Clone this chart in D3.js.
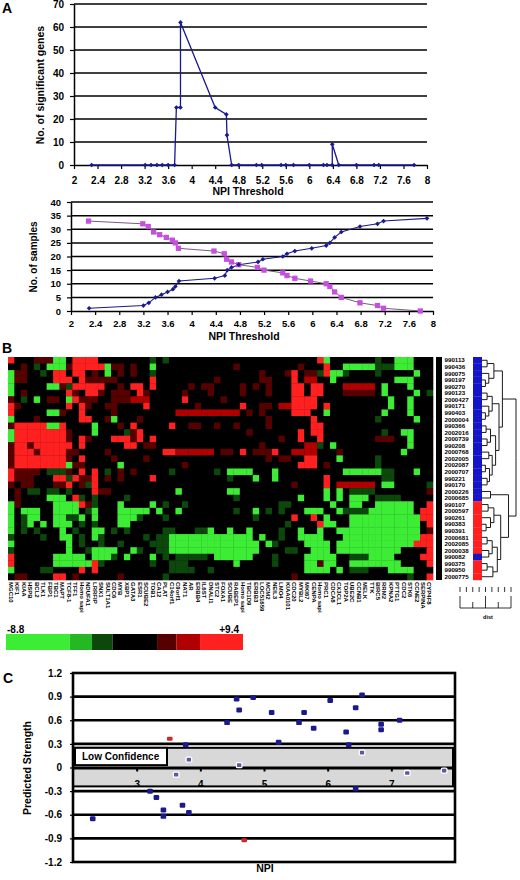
<!DOCTYPE html>
<html>
<head>
<meta charset="utf-8">
<script src="https://cdn.jsdelivr.net/npm/d3@7"></script>
<style>
  body{ margin:0; background:#fff; }
  svg text{ font-family:"Liberation Sans", Arial, sans-serif; font-weight:bold; }
</style>
</head>
<body>
<script>
// ---- panel A (top): significant genes per NPI threshold
var npiTicks = [2, 2.4, 2.8, 3.2, 3.6, 4, 4.4, 4.8, 5.2, 5.6, 6, 6.4, 6.8, 7.2, 7.6, 8];
var geneNpi = [2.30, 3.21, 3.31, 3.41, 3.50, 3.60, 3.71, 3.74, 3.81, 3.81, 4.40, 4.59, 4.60, 4.68, 4.80,
               5.10, 5.19, 5.52, 5.60, 5.73, 6.00, 6.24, 6.30, 6.39, 6.39, 6.50, 6.80, 7.10, 7.18, 7.78];
var geneCount = [0, 0, 0, 0, 0, 0, 0, 25, 25, 62, 25, 22, 13, 0, 0,
                 0, 0, 0, 0, 0, 0, 0, 0, 0, 9, 0, 0, 0, 0, 0];
var geneTicks = [0, 10, 20, 30, 40, 50, 60, 70];

// ---- panel A (bottom): samples above / below threshold
var goodNpi = [2.30, 3.20, 3.29, 3.40, 3.50, 3.60, 3.69, 3.73, 3.79, 4.38, 4.55, 4.59, 4.66, 4.78,
               5.10, 5.18, 5.51, 5.58, 5.71, 5.99, 6.23, 6.29, 6.37, 6.48, 6.79, 7.08, 7.18, 7.90];
var goodCount = [1, 2, 3, 5, 6, 7, 8, 9, 11, 12, 13, 15, 16, 17,
                 18, 19, 20, 21, 22, 23, 24, 25, 27, 29, 31, 32, 33, 34];
var poorNpi = [2.29, 3.19, 3.28, 3.37, 3.47, 3.58, 3.68, 3.73, 3.78, 4.37, 4.54, 4.58, 4.66, 4.78,
               5.09, 5.20, 5.51, 5.58, 5.71, 5.97, 6.23, 6.29, 6.37, 6.48, 6.79, 7.08, 7.18, 7.79];
var poorCount = [33, 32, 31, 29, 28, 27, 26, 25, 23, 22, 21, 19, 18, 17,
                 16, 15, 14, 13, 12, 11, 10, 9, 7, 5, 3, 2, 1, 0];
var sampleTicks = [0, 5, 10, 15, 20, 25, 30, 35, 40];

// ---- panel B: heat map (G bright green, g green, d dark green, . black, m dark red, r red, R bright red)
var samples = ["990113","990436","990075","990197","990270","990123","2000427","990171","990403","2000004",
               "990366","2002016","2000739","990208","2000768","2002005","2002087","2000707","990221","990170",
               "2000226","2000685","990107","2000597","990261","990383","990391","2000681","2002085","2000038",
               "990082","990375","990950","2000775"];
var sampleGroup = ["b","b","b","b","b","b","b","b","b","b","b","b","b","b","b","b","b","b","b","b",
                   "b","b","r","r","r","r","r","r","r","r","b","r","r","r"];
var genes = ["MGC10","KIF1","KIAA","HSPB","BCL2","TLK1","FBP1","TBC1","MAPT","TCF8-1","TFF1","Homo sapi",
             "NDUFA1","LRRFIP","SNX1","SULT1A1","CDC6","MYB","XBP1","GATA3","ESR1","SCUBE2","TOB1","CA12",
             "PLAT","C14orf1","C9orf1","NAT1","AR","ERBB4","IL6ST","DNALI1","STC2","FOXA1","SCUBE","RABEP1",
             "Homo sapi","TBC1D9","ERBB3","LOC51659","MCM2","NEIL3","LMO4","KIAA0101","CDC20","MYBL2","MKI67",
             "CENPA","Homo sapi","PRC1","CDCA8","CX3CL1","TOP2A","UBE2C","CCNB1","MELK","TTK","BIRC5","RRM2",
             "KPNA2","PTTG1","CDC2","STK6","CCNE2","SERPINA","CYP4F8"];
var heatRows = [
  "R...mmmGG. RRRR...... ..d.d..... .......... ........RG .......d.. GGG...",
  "..m.d.GGGm RRRRRGmm.m ..G....... .....m.... .....m...R ..GGGGGddd GGG...",
  "Gmm..d.RR. RR.m.G.m.m ..d....... .........m ...mR.mmdR GGd....d.. ...G..",
  "Gmm....RRR .Rmmmmm... ..R....... ..m......m m...R.rr.. G......... GGG...",
  "G.....GGmd RRRRR..m.R R.R.....m. mm....m.m. m...RR.RR. ..rrrrr.G. ..G...",
  "G.m......R m.RRm.mmm. Rm.....m.. .m....m... m...RR.RR. ..mmmmm.G. ...G.d",
  "m.d.G.mm.G Rmmm..mmmr rr.....R.. ...m...... ....RRRR.. .........G ..G...",
  "Rm.......R .Rm..mm... .R.......m ......R..m m.rrRRRR.R .........G ..G...",
  "R.....GGm. .R....m... ......rrrr rrrrrr.m.m ....RRR..G ........G. ..G...",
  "G...m..... .RR..mG... m......... .......... m......R.. .......d.. ...G..",
  "mRRRRRGGR. ...G...m.R .....R..mm ..m..m.... m......RR. .......... ......",
  "GRRRRRRRRm ...G....dm R......... .......m.. .....R.RR. ........d. .GG...",
  "GRRRRRRRRm .Rm...RRRm R.R....... .......... ..m..R..R. .......mmm ..G...",
  "mRRmRRRRRR .R......RR .mm....... .........m ......rrd. G......... ..G...",
  "mRRRmRRRRm m....m.... ....RRrrrr rr.mm.R.mm mR..rrrr.. .m........ .G....",
  "mRRRRRRRRm .R....m... .m........ .......... m.mm..RR.. .G.....d.. ......",
  "mRRRRRRRRG mm.....G.. .......m.. .......... .....RRR.m .......d.. ......",
  "Rmmmm.dddm .R.R.d.m.m .....d.... ..d.GGGG.. .G........ ..GGGGGGdd ...G..",
  "Rmmm...RRd RmmR.m.m.. ..R....... ....d...G. .G.......R ........dd ......",
  "m.mm...mmR .mdR...... .......... .......... ....m....R .rrrrrr.GG .....d",
  ".m.dd.dd.d ...Rmm.... ......G... ....GG.... .........G .G.dddd... .....m",
  ".m....GGG. Rd.d....d. .......... .....d.... .....G...G .G.GGG.ddd d.....",
  "Gm.....GGG GRmd...G.. ..G.d..d.. .......... ..dd...... G..GG..GGG GGG..R",
  "G.GGG..GGG G.dG...GGG GG.G..G... .....d..G. d.d...GGG. .GddddGGGG GGG.RR",
  "G.dGG..GGd dG.G...GGG d...d..... ........d. ....R..R.G ...GGGGGGG GGGGRR",
  "G.dG.G.GGG .d.d...GG. .......... .......... ...d....RG G..GGGGGGG GGGG.R",
  "G.d.d...G. d..GG.d.d. ....dd...d dG..G..G.. ..d..G..G. .GGGGGGGGG GGGG.m",
  "d....d..GG .d.Gd..... .d.ddGGGGG GGGGGGGG.G ..d..GGGG. ..GGGGGGGG GGGGRR",
  "G........G .d..d..d.. ..dddGGGGG GGGGGGGGG. Gd....GGGG .GGGGGGGGG GGGRRR",
  "d........G ..dGGGG..G d..ddGGGGG GGGGGGGGG. ...dd..GGG .GGGGGGGGG G....R",
  "R......GGG GG.GGGd.G. ..G.d.dddd d.GGGGGG.. .d....GGGG G..dddGGGG ....RR",
  "R......GGG GGGRd..... ..d..ddd.. .....G.... .d....GGmG G..GGGGGGG G....R",
  "G....dd... .R.R...... .....dddd. .d........ ......GGGG .G.ddd...G GGG...",
  ".mm....RR. m......m.. ....d..... .......... ....m..... .......... ..d..R"
];
var codeValue = { "G": -6, "g": -3, "d": -1.5, ".": 0, "m": 3.5, "r": 5, "R": 8 };
var legendBreaks = [-8.8, -3.9, -2.2, -0.6, 2.8, 4.3, 6.1, 9.4];
var legendColors = ["#3ded35", "#25b825", "#0c470c", "#000000", "#560000", "#b00000", "#ff2020"];
// dendrogram: [height, left, right], leaves are row numbers
var tree = [1.0,
  [0.6,
    [0.35, [0.15, 0, 1], [0.2, 2, [0.1, 3, 4]]],
    [0.5, [0.3, [0.15, 5, 6], [0.2, 7, [0.1, 8, 9]]],
          [0.4, [0.25, [0.12, 10, 11], [0.15, 12, 13]],
                [0.3, [0.2, 14, 15], [0.22, [0.1, 16, 17], [0.15, 18, 19]]]]]],
  [0.78,
    [0.25, 20, 21],
    [0.55, [0.35, [0.18, 22, 23], [0.25, 24, [0.12, 25, 26]]],
           [0.45, [0.3, [0.15, 27, 28], [0.2, 29, 30]], [0.32, [0.15, 31, 32], 33]]]]
];
var distTicks = [0, 0.25, 0.5, 0.75, 1];

// ---- panel C: predicted strength vs NPI
var predNpi = [2.31, 3.21, 3.31, 3.42, 3.42, 3.62, 3.72, 3.77, 3.82, 3.82, 4.42, 4.57, 4.61, 4.61, 4.83, 5.12,
               5.23, 5.55, 5.63, 5.78, 6.04, 6.29, 6.33, 6.44, 6.44, 6.54, 6.54, 6.84, 6.84, 7.13, 7.25, 7.83,
               3.52, 4.69];
var predStrength = [-0.65, -0.30, -0.38, -0.54, -0.62, -0.09, -0.48, 0.29, 0.10, -0.57, 0.57, 0.87, 0.73, 0.03, 0.89, 0.70,
                    0.32, 0.57, 0.70, 0.50, 0.85, 0.45, 0.29, 0.76, -0.27, 0.19, 0.92, 0.55, 0.48, 0.60, -0.07, -0.04,
                    0.36, -0.93];
var predClass = ["b","b","b","b","b","b","b","b","b","b","b","b","b","b","b","b",
                 "b","b","b","b","b","b","b","b","b","b","b","b","b","b","b","b",
                 "r","r"];
var strengthTicks = [-1.2, -0.9, -0.6, -0.3, 0, 0.3, 0.6, 0.9, 1.2];
var npiC = [3, 4, 5, 6, 7];
var lowConf = [-0.24, 0.25];

var width = 520, height = 880;
var navy = "#1a1a8e";

var svg = d3.select("body").append("svg")
  .attr("width", width)
  .attr("height", height);

function label(t, x, y, size) {
  return svg.append("text").attr("x", x).attr("y", y).attr("font-size", size).text(t);
}
function fmt(d) { return String(+d.toFixed(1)); }
function styleAxis(g, size) {
  g.attr("font-size", size);
  g.select(".domain").attr("stroke-width", 1.5);
  g.selectAll(".tick line").attr("stroke-width", 1.2);
}

// ================= A top =================
label("A", 2, 13, 14);
var xA = d3.scaleLinear().domain([2, 8]).range([74, 427]);
var yA = d3.scaleLinear().domain([0, 70]).range([165, 4]);

svg.append("g").selectAll("line")
  .data(geneTicks.slice(1))
  .enter().append("line")
    .attr("x1", xA(2)).attr("x2", xA(8))
    .attr("y1", d => yA(d)).attr("y2", d => yA(d))
    .attr("stroke", "#000").attr("stroke-width", 1.6);

var axA = svg.append("g").attr("transform", "translate(0," + yA(0) + ")")
  .call(d3.axisBottom(xA).tickValues(npiTicks).tickFormat(fmt).tickSize(4).tickSizeOuter(0).tickPadding(8));
styleAxis(axA, 10);
var ayA = svg.append("g").attr("transform", "translate(" + xA(2) + ",0)")
  .call(d3.axisLeft(yA).tickValues(geneTicks).tickSize(4).tickSizeOuter(0).tickPadding(6));
styleAxis(ayA, 10);

var geneLine = d3.line().x(d => xA(d[0])).y(d => yA(d[1]));
var genePts = geneNpi.map((v, i) => [v, geneCount[i]]);
svg.append("path").attr("d", geneLine(genePts))
  .attr("fill", "none").attr("stroke", navy).attr("stroke-width", 1.3);
svg.append("g").selectAll("path")
  .data(genePts)
  .enter().append("path")
    .attr("d", d3.symbol(d3.symbolSquare, 11))
    .attr("transform", d => "translate(" + xA(d[0]) + "," + yA(d[1]) + ") rotate(45)")
    .attr("fill", navy);

label("NPI Threshold", 248, 195, 10.5).attr("text-anchor", "middle");
label("No. of significant genes", 0, 0, 10.5)
  .attr("text-anchor", "middle")
  .attr("transform", "translate(44,85) rotate(-90)");

// ================= A bottom =================
var xB = d3.scaleLinear().domain([2, 8]).range([71, 433]);
var yB = d3.scaleLinear().domain([0, 40]).range([311, 202]);

svg.append("g").selectAll("line")
  .data(sampleTicks.slice(1))
  .enter().append("line")
    .attr("x1", xB(2)).attr("x2", xB(8))
    .attr("y1", d => yB(d)).attr("y2", d => yB(d))
    .attr("stroke", "#000").attr("stroke-width", 1.5);

var axB = svg.append("g").attr("transform", "translate(0," + yB(0) + ")")
  .call(d3.axisBottom(xB).tickValues(npiTicks).tickFormat(fmt).tickSize(4).tickSizeOuter(0).tickPadding(5));
styleAxis(axB, 9.5);
var ayB = svg.append("g").attr("transform", "translate(" + xB(2) + ",0)")
  .call(d3.axisLeft(yB).tickValues(sampleTicks).tickSize(4).tickSizeOuter(0).tickPadding(6));
styleAxis(ayB, 9.5);

var lineB = d3.line().x(d => xB(d[0])).y(d => yB(d[1]));
var goodPts = goodNpi.map((v, i) => [v, goodCount[i]]);
var poorPts = poorNpi.map((v, i) => [v, poorCount[i]]);
svg.append("path").attr("d", lineB(poorPts))
  .attr("fill", "none").attr("stroke", "#7a5a80").attr("stroke-width", 1);
svg.append("path").attr("d", lineB(goodPts))
  .attr("fill", "none").attr("stroke", navy).attr("stroke-width", 1.1);
svg.append("g").selectAll("path")
  .data(poorPts)
  .enter().append("path")
    .attr("d", d3.symbol(d3.symbolSquare, 28))
    .attr("transform", d => "translate(" + xB(d[0]) + "," + yB(d[1]) + ")")
    .attr("fill", "#c64fe0");
svg.append("g").selectAll("path")
  .data(goodPts)
  .enter().append("path")
    .attr("d", d3.symbol(d3.symbolSquare, 11))
    .attr("transform", d => "translate(" + xB(d[0]) + "," + yB(d[1]) + ") rotate(45)")
    .attr("fill", navy);

label("NPI Threshold", 244, 340, 10.5).attr("text-anchor", "middle");
label("No. of samples", 0, 0, 10)
  .attr("text-anchor", "middle")
  .attr("transform", "translate(37,257) rotate(-90)");

// ================= B =================
label("B", 2, 353, 14);
var matrix = heatRows.map(r => r.replace(/ /g, "").split("").map(c => codeValue[c]));
var cells = [];
matrix.forEach((row, r) => row.forEach((v, c) => cells.push({ r: r, c: c, v: v })));

var xH = d3.scaleBand().domain(d3.range(genes.length)).range([8, 433]);
var yH = d3.scaleBand().domain(d3.range(samples.length)).range([357, 580]);
var heatColor = d3.scaleThreshold().domain(legendBreaks.slice(1, -1)).range(legendColors);

svg.append("rect").attr("x", 8).attr("y", 357).attr("width", 425).attr("height", 223).attr("fill", "#000");
svg.append("g").selectAll("rect")
  .data(cells)
  .enter().append("rect")
    .attr("x", d => xH(d.c)).attr("y", d => yH(d.r))
    .attr("width", xH.bandwidth() + 0.3).attr("height", yH.bandwidth() + 0.3)
    .attr("fill", d => heatColor(d.v));

svg.append("g").selectAll("text")
  .data(genes)
  .enter().append("text")
    .attr("transform", (d, i) => "translate(" + (xH(i) + xH.bandwidth() / 2 - 2.3) + ",582) rotate(90)")
    .attr("font-size", 6)
    .text(d => d);

svg.append("rect").attr("x", 436).attr("y", 357).attr("width", 6).attr("height", 223).attr("fill", "#000");
svg.append("g").selectAll("text")
  .data(samples)
  .enter().append("text")
    .attr("x", 444.5)
    .attr("y", (d, i) => yH(i) + yH.bandwidth() / 2 + 2.2)
    .attr("font-size", 6.2)
    .text(d => d);
svg.append("g").selectAll("rect")
  .data(sampleGroup)
  .enter().append("rect")
    .attr("x", 473).attr("y", (d, i) => yH(i))
    .attr("width", 9).attr("height", yH.bandwidth() + 0.2)
    .attr("fill", d => d === "b" ? "#1414c8" : "#ff1f1f");

// dendrogram
var hx = d3.scaleLinear().domain([0, 1]).range([482, 516]);
var root = d3.hierarchy(tree, d => Array.isArray(d) ? d.slice(1) : null);
root.eachAfter(n => {
  if (n.children) {
    n.h = n.data[0];
    n.py = (n.children[0].py + n.children[n.children.length - 1].py) / 2;
  } else {
    n.h = 0;
    n.py = yH(n.data) + yH.bandwidth() / 2;
  }
});
var dendro = svg.append("g").attr("stroke", "#000").attr("stroke-width", 0.9).attr("fill", "none");
dendro.selectAll("path")
  .data(root.descendants().filter(n => n.parent))
  .enter().append("path")
    .attr("d", n => "M" + hx(n.h) + "," + n.py + "H" + hx(n.parent.h) + "V" + n.parent.py);

// distance scale under the dendrogram
var xD = d3.scaleLinear().domain([0, 1]).range([460, 511]);
var ds = svg.append("g").attr("stroke", "#000").attr("stroke-width", 0.8);
ds.append("line").attr("x1", xD(0)).attr("x2", xD(1)).attr("y1", 608).attr("y2", 608);
ds.selectAll("line.t")
  .data(distTicks)
  .enter().append("line")
    .attr("x1", d => xD(d)).attr("x2", d => xD(d))
    .attr("y1", (d, i) => i % 2 ? 602 : 596).attr("y2", 608);
ds.selectAll("line.m")
  .data(d3.range(0, 1.01, 0.125))
  .enter().append("line")
    .attr("x1", d => xD(d)).attr("x2", d => xD(d))
    .attr("y1", 587).attr("y2", 592);
label("dist", 488, 619, 5.5).attr("text-anchor", "middle");

// colour legend
var xL = d3.scaleLinear().domain([legendBreaks[0], legendBreaks[legendBreaks.length - 1]]).range([6, 243]);
svg.append("g").selectAll("rect")
  .data(legendColors)
  .enter().append("rect")
    .attr("x", (d, i) => xL(legendBreaks[i]))
    .attr("width", (d, i) => xL(legendBreaks[i + 1]) - xL(legendBreaks[i]))
    .attr("y", 634).attr("height", 16)
    .attr("fill", d => d);
label("-8.8", 7, 633, 10);
label("+9.4", 239, 633, 10).attr("text-anchor", "end");

// ================= C =================
label("C", 3, 683, 14);
var xC = d3.scaleLinear().domain([2, 8]).range([73, 455]);
var yC = d3.scaleLinear().domain([-1.2, 1.2]).range([862, 673]);

svg.append("g").selectAll("line")
  .data(strengthTicks.filter(d => Math.abs(d) > 0.01 && Math.abs(d) < 1.1))
  .enter().append("line")
    .attr("x1", xC(2)).attr("x2", xC(8))
    .attr("y1", d => yC(d)).attr("y2", d => yC(d))
    .attr("stroke", "#000").attr("stroke-width", 2.6);

svg.append("defs").append("clipPath").attr("id", "bandclip")
  .append("rect")
    .attr("x", xC(2)).attr("y", yC(lowConf[1]))
    .attr("width", xC(8) - xC(2)).attr("height", yC(lowConf[0]) - yC(lowConf[1]));
svg.append("rect")
  .attr("x", xC(2)).attr("y", yC(lowConf[1]))
  .attr("width", xC(8) - xC(2) - 2).attr("height", yC(lowConf[0]) - yC(lowConf[1]))
  .attr("fill", "#d8d8d8");

var axC = svg.append("g").attr("clip-path", "url(#bandclip)")
  .append("g").attr("transform", "translate(0," + yC(0) + ")")
  .call(d3.axisBottom(xC).tickValues(npiC).tickFormat(fmt).tickSize(4).tickSizeOuter(0).tickPadding(9));
axC.attr("font-size", 10);
axC.select(".domain").attr("stroke-width", 3);
axC.selectAll(".tick line").attr("stroke-width", 2);

svg.append("rect")
  .attr("x", xC(2)).attr("y", yC(lowConf[1]))
  .attr("width", xC(8) - xC(2) - 2).attr("height", yC(lowConf[0]) - yC(lowConf[1]))
  .attr("fill", "none").attr("stroke", "#000").attr("stroke-width", 2);

svg.append("rect")
  .attr("x", xC(2) + 2).attr("y", yC(lowConf[1]))
  .attr("width", 92).attr("height", yC(0.03) - yC(lowConf[1]))
  .attr("fill", "#fff").attr("stroke", "#000").attr("stroke-width", 2);
label("Low Confidence", 82, 760, 10);

svg.append("rect")
  .attr("x", xC(2)).attr("y", yC(1.2))
  .attr("width", xC(8) - xC(2)).attr("height", yC(-1.2) - yC(1.2))
  .attr("fill", "none").attr("stroke", "#000").attr("stroke-width", 2.6);

var ayC = svg.append("g").attr("transform", "translate(" + xC(2) + ",0)")
  .call(d3.axisLeft(yC).tickValues(strengthTicks).tickFormat(fmt).tickSize(3).tickSizeOuter(0).tickPadding(8));
styleAxis(ayC, 10);
ayC.select(".domain").remove();

var predPts = predNpi.map((v, i) => ({ x: v, y: predStrength[i], c: predClass[i] }));
function inBand(d) { return d.y > lowConf[0] && d.y < lowConf[1] - 0.05; }
svg.append("g").selectAll("rect")
  .data(predPts)
  .enter().append("rect")
    .attr("x", d => xC(d.x) - 2.8).attr("y", d => yC(d.y) - 2.5)
    .attr("width", 5.6).attr("height", d => d.c === "r" ? 4 : 5)
    .attr("rx", 1.2)
    .attr("fill", d => d.c === "r" ? "#d02828" : (inBand(d) ? "#5a5a9e" : navy))
    .attr("stroke", d => inBand(d) ? "#fff" : "none")
    .attr("stroke-width", 1.3);

label("Predicted Strength", 0, 0, 10.5)
  .attr("text-anchor", "middle")
  .attr("transform", "translate(31,768) rotate(-90)");
label("NPI", 265, 872, 10.5).attr("text-anchor", "middle");
</script>
</body>
</html>
